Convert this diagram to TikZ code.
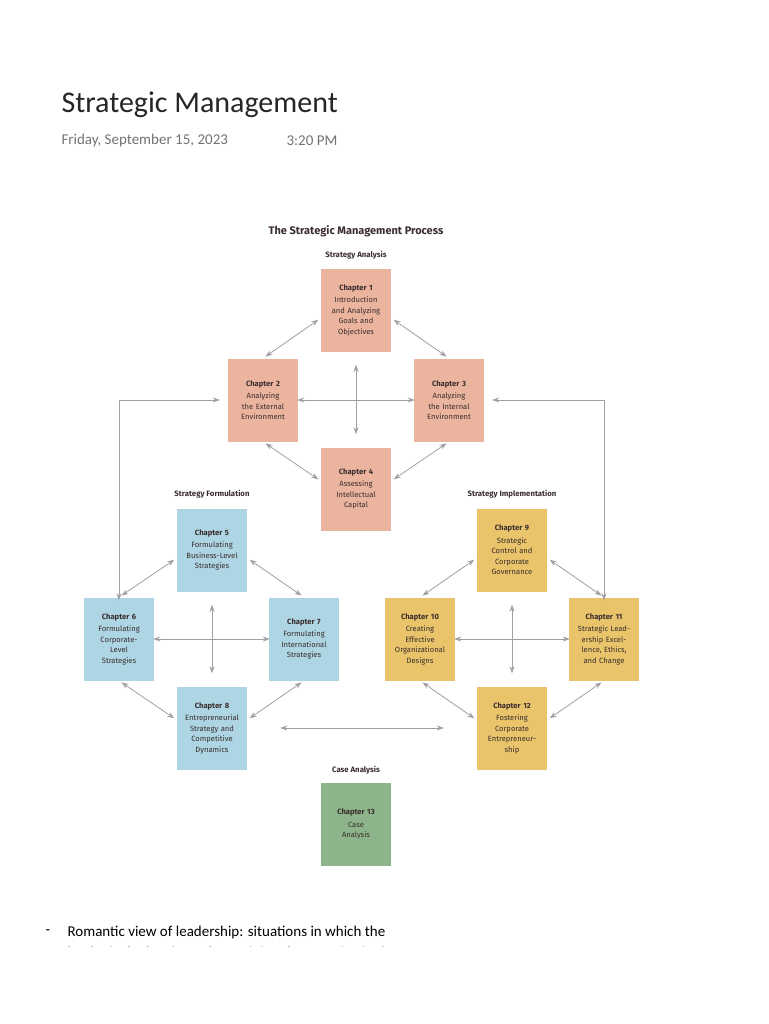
\documentclass[tikz,border=0pt]{standalone}
\usepackage{fontspec}
\setmainfont{Carlito}
\newfontfamily\dfont{Fira Sans}
\usetikzlibrary{arrows.meta}
\definecolor{salm}{HTML}{EBB49E}
\definecolor{lblue}{HTML}{ADD5E3}
\definecolor{yell}{HTML}{E9C46A}
\definecolor{grn}{HTML}{8DB48A}
\definecolor{txt}{HTML}{3A2E2E}
\definecolor{arr}{HTML}{A0A0A4}
\begin{document}
\begin{tikzpicture}[x=1pt,y=-1pt,
 box/.style={minimum width=70pt,minimum height=83pt,inner sep=1pt,align=center,text width=68pt,font=\dfont\fontsize{7.6}{10.5}\selectfont,text=txt,anchor=center},
 arrw/.style={draw=arr,line width=0.8pt,{Stealth[length=7pt,width=5pt]}-{Stealth[length=7pt,width=5pt]},shorten <=3pt,shorten >=3pt},
 lbl/.style={font=\dfont\bfseries\fontsize{7.8}{9}\selectfont,text=txt}]
\useasboundingbox (0,0) rectangle (768,1024);
\fill[white] (0,0) rectangle (768,1024);
\node[anchor=west,font=\fontsize{30}{34}\selectfont,text=black!85] (title) at (58,105) {Strategic Management};
\node[anchor=west,font=\fontsize{15}{17}\selectfont,text=black!55] (date) at (58,141) {Friday, September 15, 2023};
\node[anchor=west,font=\fontsize{15}{17}\selectfont,text=black!55] (time) at (283,141) {3:20 PM};
\node[font=\dfont\bfseries\fontsize{11}{13}\selectfont,text=txt] (ptitle) at (356,231) {The Strategic Management Process};
\node[lbl] (sa) at (356,255) {Strategy Analysis};
\node[lbl] (sf) at (212,494) {Strategy Formulation};
\node[lbl] (si) at (512,494) {Strategy Implementation};
\node[lbl] (ca) at (356,770) {Case Analysis};
\newcommand{\ch}[5]{\node[box,fill=#4] (#1) at (#2) {\textbf{Chapter #3}\\[2pt]#5};}
\ch{c1}{356,310}{1}{salm}{Introduction\\and Analyzing\\Goals and\\Objectives}
\ch{c2}{263,400}{2}{salm}{Analyzing\\the External\\Environment}
\ch{c3}{449,400}{3}{salm}{Analyzing\\the Internal\\Environment}
\ch{c4}{356,489}{4}{salm}{Assessing\\Intellectual\\Capital}
\ch{c5}{212,550}{5}{lblue}{Formulating\\Business-Level\\Strategies}
\ch{c6}{119,639}{6}{lblue}{Formulating\\Corporate-\\Level\\Strategies}
\ch{c7}{304,639}{7}{lblue}{Formulating\\International\\Strategies}
\ch{c8}{212,728}{8}{lblue}{Entrepreneurial\\Strategy and\\Competitive\\Dynamics}
\ch{c9}{512,550}{9}{yell}{Strategic\\Control and\\Corporate\\Governance}
\ch{c10}{420,639}{10}{yell}{Creating\\Effective\\Organizational\\Designs}
\ch{c11}{604,639}{11}{yell}{Strategic Lead-\\ership Excel-\\lence, Ethics,\\and Change}
\ch{c12}{512,728}{12}{yell}{Fostering\\Corporate\\Entrepreneur-\\ship}
\ch{c13}{356,824}{13}{grn}{Case\\Analysis}
% diamonds
\foreach \t/\l/\r/\b in {c1/c2/c3/c4,c5/c6/c7/c8,c9/c10/c11/c12}{
 \draw[arrw] ([yshift=-8pt]\t.west) -- (\l.north);
 \draw[arrw] ([yshift=-8pt]\t.east) -- (\r.north);
 \draw[arrw] (\l.south) -- ([yshift=8pt]\b.west);
 \draw[arrw] (\r.south) -- ([yshift=8pt]\b.east);
 \draw[arrw] ([yshift=-10pt]\t.south) -- ([yshift=10pt]\b.north);
 \draw[arrw] ([xshift=-4pt]\l.east) -- ([xshift=4pt]\r.west);
}
\draw[arrw,shorten <=0pt,shorten >=0pt] ([xshift=-8pt]c2.west) -| ([yshift=-3pt]c6.north);
\draw[arrw,shorten <=0pt,shorten >=0pt] ([xshift=8pt]c3.east) -| ([yshift=-3pt]c11.north);
\draw[arrw] ([xshift=30pt]c8.east) -- ([xshift=-30pt]c12.west);
\node[anchor=west,font=\fontsize{15}{17}\selectfont,text=black] (dash) at (42,932) {-};
\node[anchor=west,font=\fontsize{15}{17}\selectfont,text=black] (bul) at (64,932) {Romantic view of leadership: situations in which the};
\begin{scope}
\clip (0,941) rectangle (768,946);
\node[anchor=west,font=\fontsize{15}{17}\selectfont,text=black] (bul2) at (64,953) {leader is the key force determining the organization's};
\end{scope}
\end{tikzpicture}
\end{document}
